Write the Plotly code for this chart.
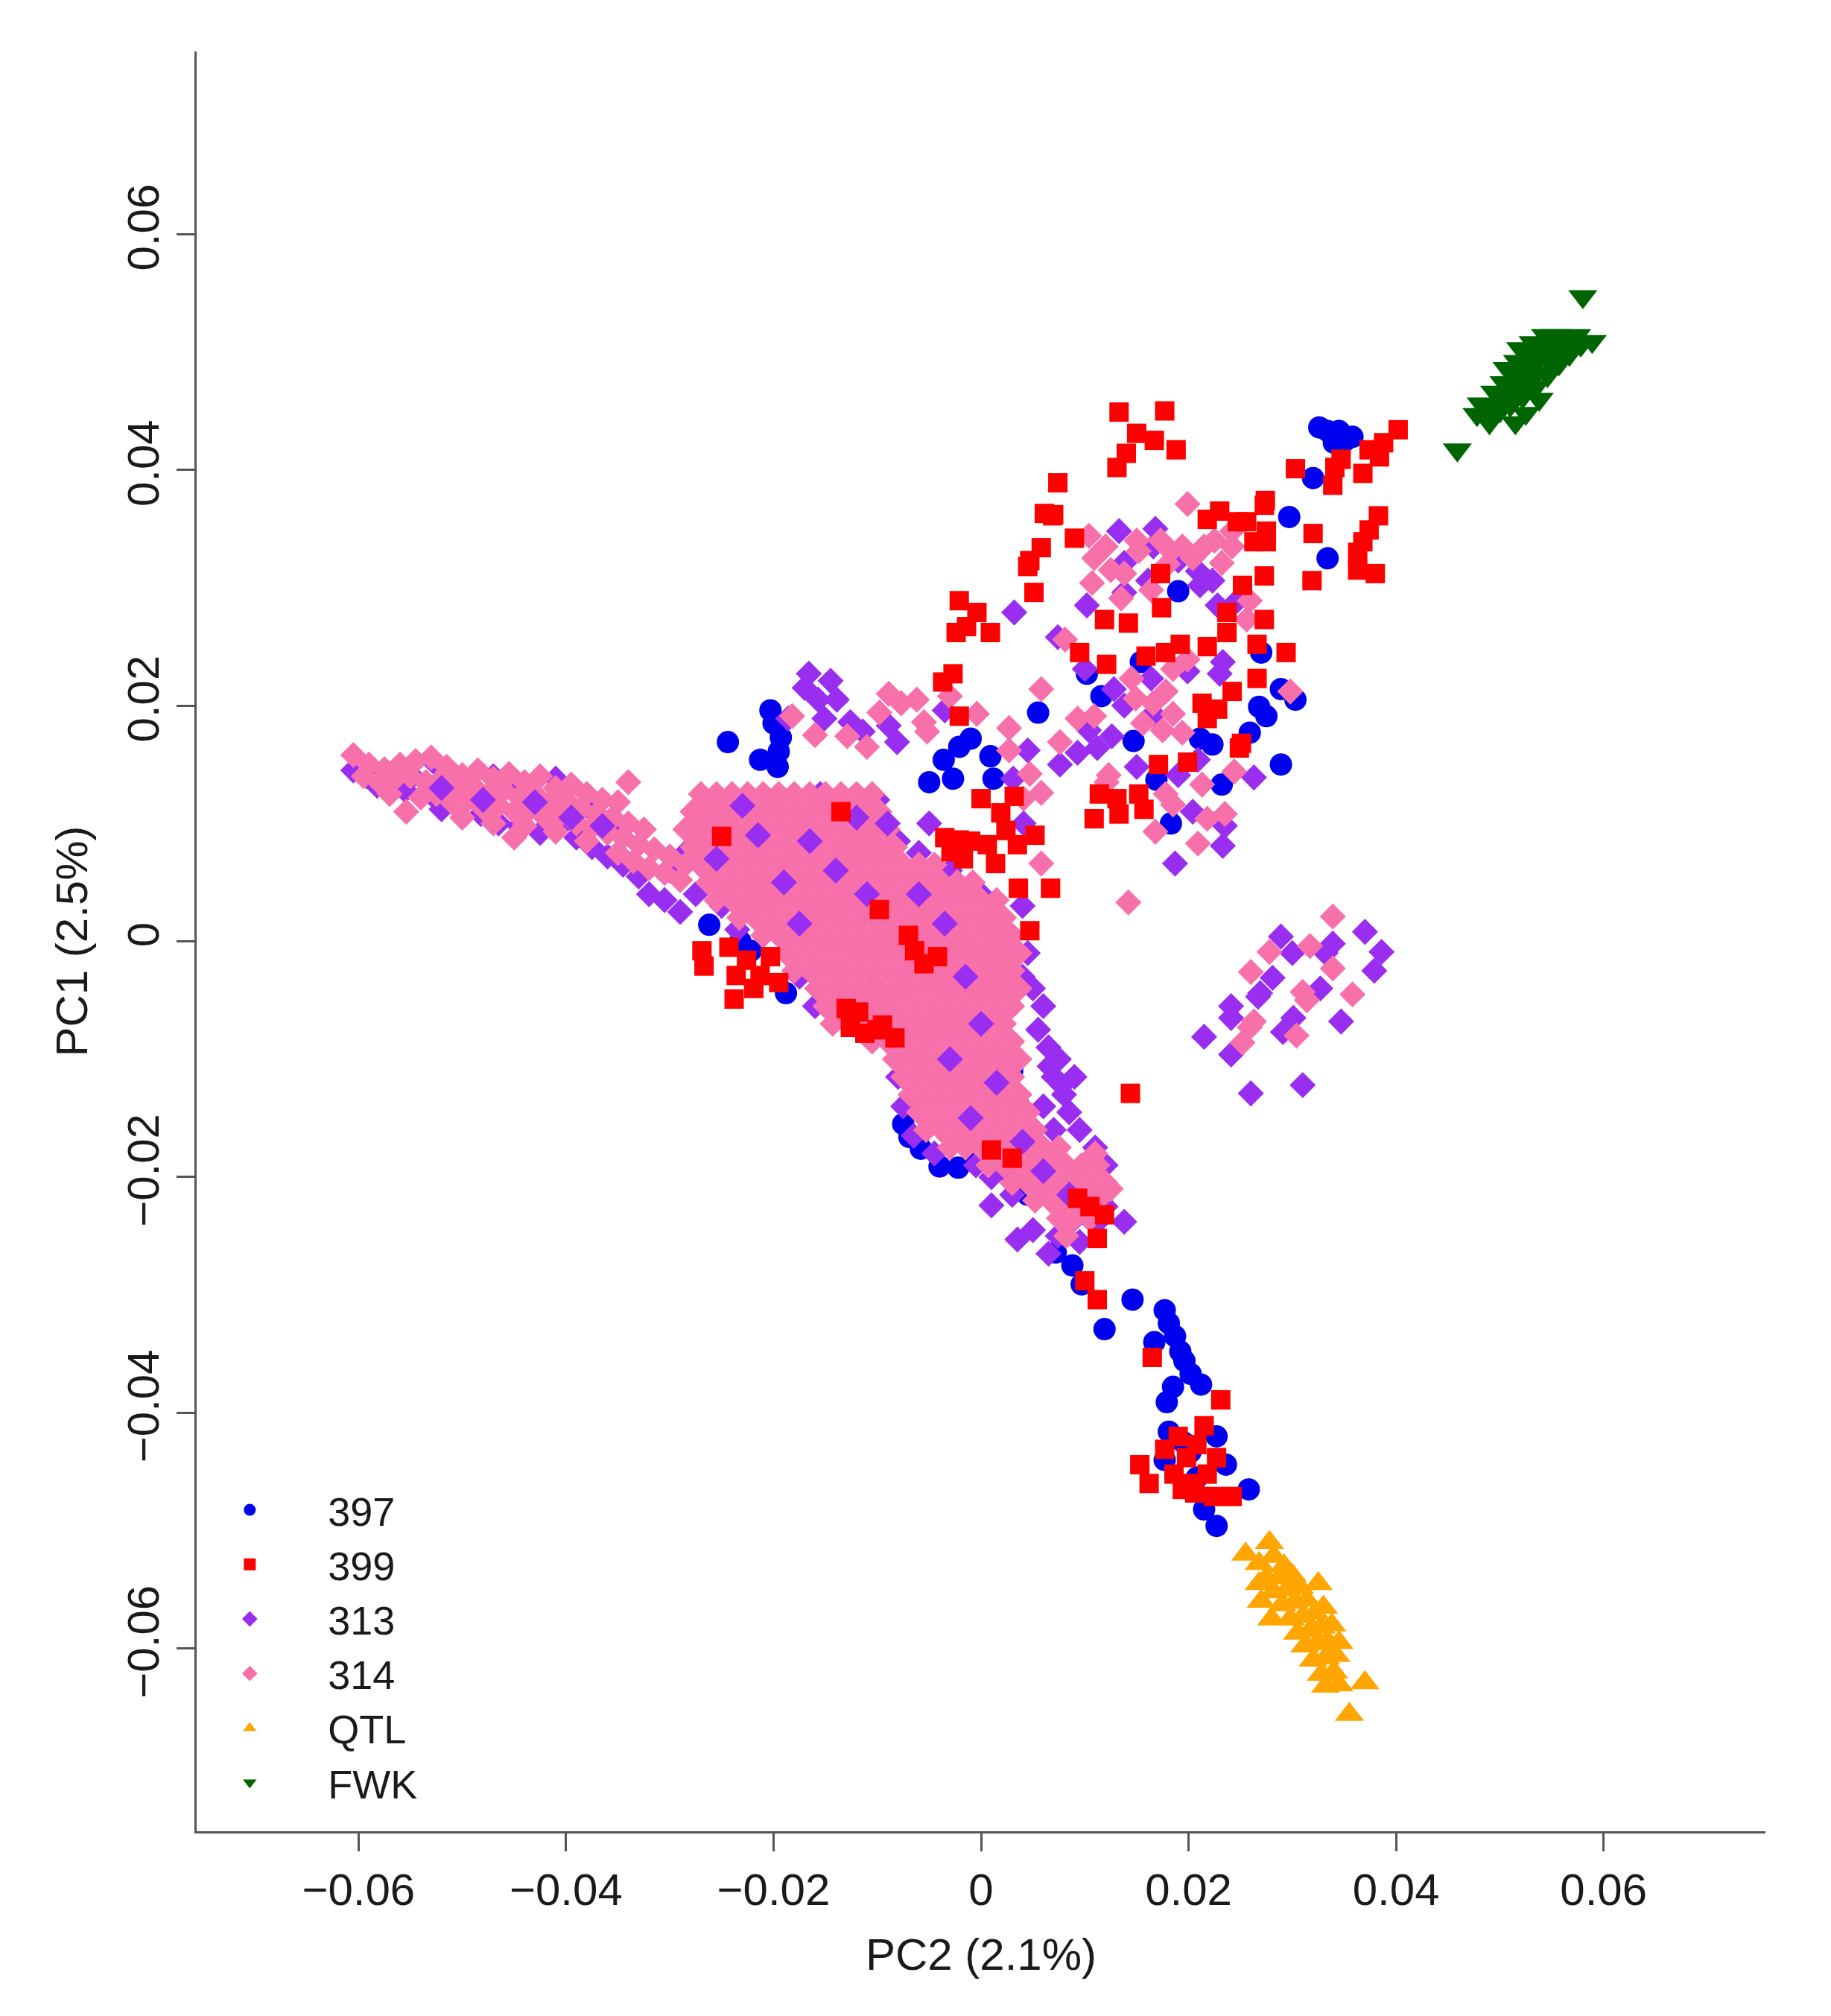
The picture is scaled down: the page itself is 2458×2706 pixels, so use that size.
import plotly.graph_objects as go

# PCA scores, one (PC2, PC1) pair per sample

g397 = [
    (0.0326, 0.0436), (0.0334, 0.0433), (0.0345, 0.0433), (0.0351, 0.0425), (0.0340, 0.0423),
    (0.0358, 0.0428), (0.0320, 0.0393), (0.0297, 0.0360), (0.0334, 0.0325),
    (0.0190, 0.0297), (0.0154, 0.0237), (0.0102, 0.0227), (0.0116, 0.0208), (0.0270, 0.0245),
    (0.0289, 0.0214), (0.0268, 0.0199), (0.0275, 0.0191), (0.0259, 0.0177), (0.0147, 0.0170),
    (0.0211, 0.0172), (0.0223, 0.0167), (0.0289, 0.0150), (0.0232, 0.0133), (0.0169, 0.0137),
    (0.0183, 0.0100), (0.0303, 0.0205),
    (-0.0036, 0.0154), (-0.0021, 0.0165), (-0.0010, 0.0172), (-0.0027, 0.0138), (0.0009, 0.0157),
    (0.0012, 0.0138), (0.0055, 0.0194), (-0.0050, 0.0135),
    (-0.0244, 0.0169), (-0.0203, 0.0196), (-0.0200, 0.0185), (-0.0193, 0.0173), (-0.0195, 0.0161),
    (-0.0196, 0.0148), (-0.0213, 0.0154),
    (-0.0262, 0.0014), (-0.0232, 0.0000), (-0.0222, -0.0008), (-0.0188, -0.0044), (-0.0062, -0.0013),
    (-0.0068, -0.0005), (-0.0055, 0.0015), (-0.0040, -0.0030), (-0.0020, -0.0060), (0.0030, -0.0110),
    (0.0035, -0.0135),
    (-0.0075, -0.0155), (-0.0069, -0.0166), (-0.0058, -0.0176), (-0.0040, -0.0191), (-0.0022, -0.0192),
    (-0.0006, -0.0185), (0.0030, -0.0200), (0.0045, -0.0215),
    (0.0072, -0.0264), (0.0088, -0.0275), (0.0097, -0.0291), (0.0119, -0.0329), (0.0146, -0.0304),
    (0.0167, -0.0340), (0.0177, -0.0313), (0.0181, -0.0324), (0.0187, -0.0335), (0.0192, -0.0348),
    (0.0196, -0.0356), (0.0202, -0.0367), (0.0212, -0.0376), (0.0185, -0.0378), (0.0179, -0.0391),
    (0.0181, -0.0416), (0.0177, -0.0440), (0.0227, -0.0420), (0.0236, -0.0444), (0.0258, -0.0465),
    (0.0215, -0.0482), (0.0227, -0.0496), (0.0202, -0.0433), (0.0208, -0.0455), (0.0195, -0.0425),
]

g399 = [
    (0.0133, 0.0449), (0.0177, 0.0450), (0.0150, 0.0431), (0.0167, 0.0425), (0.0188, 0.0417),
    (0.0140, 0.0414), (0.0131, 0.0402), (0.0074, 0.0389), (0.0061, 0.0363), (0.0069, 0.0361),
    (0.0058, 0.0334), (0.0047, 0.0323), (0.0045, 0.0318), (0.0051, 0.0296),
    (-0.0021, 0.0289), (-0.0004, 0.0279), (-0.0024, 0.0262), (0.0009, 0.0262), (-0.0014, 0.0267),
    (-0.0027, 0.0227), (-0.0021, 0.0191), (-0.0037, 0.0220),
    (0.0274, 0.0374), (0.0303, 0.0401), (0.0320, 0.0346), (0.0319, 0.0306), (0.0341, 0.0402),
    (0.0347, 0.0409), (0.0339, 0.0387), (0.0368, 0.0397), (0.0374, 0.0417), (0.0388, 0.0423),
    (0.0402, 0.0434), (0.0384, 0.0411), (0.0383, 0.0361), (0.0374, 0.0349), (0.0368, 0.0339),
    (0.0363, 0.0330), (0.0363, 0.0315), (0.0380, 0.0312),
    (0.0070, 0.0362), (0.0090, 0.0342), (0.0218, 0.0358), (0.0230, 0.0365), (0.0247, 0.0356),
    (0.0256, 0.0356), (0.0273, 0.0370), (0.0275, 0.0348), (0.0263, 0.0339), (0.0275, 0.0339),
    (0.0273, 0.0310), (0.0252, 0.0302), (0.0173, 0.0312), (0.0174, 0.0283), (0.0119, 0.0273),
    (0.0142, 0.0270), (0.0237, 0.0279), (0.0237, 0.0262), (0.0273, 0.0273), (0.0095, 0.0245),
    (0.0121, 0.0235), (0.0159, 0.0242), (0.0178, 0.0245), (0.0192, 0.0252), (0.0218, 0.0250),
    (0.0266, 0.0252), (0.0294, 0.0245), (0.0266, 0.0223), (0.0242, 0.0212), (0.0213, 0.0202),
    (0.0228, 0.0197), (0.0218, 0.0189), (0.0251, 0.0168),
    (0.0249, 0.0164), (0.0171, 0.0150), (0.0199, 0.0152), (0.0114, 0.0125), (0.0131, 0.0121),
    (0.0133, 0.0108), (0.0152, 0.0125), (0.0157, 0.0112), (0.0109, 0.0104),
    (0.0000, 0.0121), (0.0019, 0.0109), (0.0024, 0.0094), (0.0036, 0.0045), (0.0014, 0.0066),
    (0.0006, 0.0082), (-0.0010, 0.0085), (-0.0021, 0.0086), (-0.0035, 0.0088), (-0.0029, 0.0076),
    (-0.0017, 0.0070), (0.0047, 0.0009), (0.0032, 0.0123), (0.0067, 0.0045), (0.0052, 0.0090),
    (0.0035, 0.0082),
    (-0.0269, -0.0008), (-0.0267, -0.0021), (-0.0243, -0.0005), (-0.0236, -0.0029), (-0.0226, -0.0016),
    (-0.0213, -0.0029), (-0.0203, -0.0013), (-0.0195, -0.0035), (-0.0238, -0.0049), (-0.0219, -0.0040),
    (-0.0250, 0.0089), (-0.0130, -0.0057), (-0.0126, -0.0073), (-0.0112, -0.0078), (-0.0095, -0.0071),
    (-0.0083, -0.0082), (-0.0064, -0.0008), (-0.0055, -0.0019), (-0.0042, -0.0013), (-0.0135, 0.0110),
    (-0.0098, 0.0027), (-0.0070, 0.0005), (-0.0118, -0.0060), (-0.0100, -0.0075),
    (0.0144, -0.0129), (0.0010, -0.0177), (0.0030, -0.0184), (0.0093, -0.0218), (0.0105, -0.0225),
    (0.0119, -0.0232), (0.0112, -0.0252),
    (0.0100, -0.0288), (0.0112, -0.0304), (0.0165, -0.0353), (0.0231, -0.0389), (0.0153, -0.0444),
    (0.0162, -0.0460), (0.0177, -0.0431), (0.0190, -0.0420), (0.0198, -0.0438), (0.0208, -0.0427),
    (0.0218, -0.0452), (0.0202, -0.0460), (0.0224, -0.0471), (0.0242, -0.0471), (0.0186, -0.0452),
    (0.0206, -0.0468), (0.0194, -0.0465), (0.0227, -0.0438), (0.0215, -0.0411),
]

g313 = [
    (-0.0605, 0.0145), (-0.0592, 0.0140), (-0.0582, 0.0132), (-0.0570, 0.0142), (-0.0548, 0.0140),
    (-0.0555, 0.0128), (-0.0530, 0.0125), (-0.0520, 0.0112), (-0.0500, 0.0125), (-0.0482, 0.0108),
    (-0.0465, 0.0100), (-0.0448, 0.0128), (-0.0445, 0.0098), (-0.0425, 0.0092), (-0.0410, 0.0138),
    (-0.0405, 0.0098), (-0.0390, 0.0088), (-0.0375, 0.0080), (-0.0360, 0.0072), (-0.0345, 0.0065),
    (-0.0330, 0.0055), (-0.0320, 0.0040), (-0.0305, 0.0035), (-0.0290, 0.0025), (-0.0275, 0.0040),
    (-0.0300, 0.0060), (-0.0350, 0.0095), (-0.0470, 0.0140), (-0.0525, 0.0150), (-0.0380, 0.0115),
    (-0.0166, 0.0227), (-0.0145, 0.0221), (-0.0139, 0.0205), (-0.0157, 0.0205), (-0.0151, 0.0189),
    (-0.0126, 0.0186), (-0.0114, 0.0178), (-0.0089, 0.0183), (-0.0081, 0.0169), (-0.0186, 0.0189),
    (-0.0170, 0.0215), (-0.0035, 0.0196),
    (-0.0275, 0.0090), (-0.0285, 0.0075), (-0.0265, 0.0105), (-0.0265, 0.0060), (-0.0250, 0.0030),
    (-0.0235, 0.0010), (-0.0220, 0.0045), (-0.0200, 0.0015), (-0.0185, 0.0070), (-0.0170, 0.0100),
    (-0.0160, 0.0025), (-0.0145, -0.0005), (-0.0130, 0.0050), (-0.0120, 0.0090), (-0.0105, 0.0025),
    (-0.0090, 0.0070), (-0.0080, -0.0005), (-0.0075, -0.0035), (-0.0090, -0.0055), (-0.0105, -0.0040),
    (-0.0125, -0.0045), (-0.0140, -0.0040), (-0.0160, -0.0055), (-0.0070, -0.0080), (-0.0060, -0.0100),
    (-0.0080, -0.0115), (-0.0075, -0.0140), (-0.0065, -0.0165), (-0.0045, -0.0180), (-0.0060, -0.0025),
    (-0.0030, 0.0060), (0.0000, 0.0040), (0.0020, 0.0010), (0.0040, 0.0030), (0.0045, -0.0010),
    (0.0040, -0.0030), (-0.0080, 0.0085), (-0.0060, 0.0075), (-0.0040, 0.0050), (-0.0020, 0.0040),
    (0.0010, 0.0025), (-0.0175, -0.0030), (-0.0155, 0.0125), (-0.0100, 0.0120), (-0.0050, 0.0100),
    (0.0050, -0.0040), (0.0060, -0.0055), (0.0055, -0.0075), (0.0065, -0.0090), (0.0075, -0.0100),
    (0.0070, -0.0115), (0.0080, -0.0130), (0.0085, -0.0145), (0.0060, -0.0140), (0.0095, -0.0160),
    (0.0070, -0.0160), (0.0090, -0.0115), (0.0066, -0.0106), (0.0078, -0.0122),
    (0.0030, -0.0215), (0.0010, -0.0200), (0.0035, -0.0253), (0.0050, -0.0245), (0.0074, -0.0250),
    (0.0095, -0.0255), (0.0110, -0.0240), (0.0120, -0.0225), (0.0100, -0.0220), (-0.0005, -0.0190),
    (0.0065, -0.0265), (0.0085, -0.0240), (0.0120, -0.0190), (0.0110, -0.0175), (0.0109, -0.0209),
    (0.0010, -0.0224), (0.0138, -0.0238),
    (0.0032, 0.0279), (0.0045, 0.0162), (0.0031, 0.0138), (0.0041, 0.0100),
    (0.0133, 0.0348), (0.0168, 0.0350), (0.0166, 0.0335), (0.0138, 0.0321), (0.0190, 0.0323),
    (0.0209, 0.0314), (0.0223, 0.0306), (0.0211, 0.0302), (0.0102, 0.0285), (0.0161, 0.0306),
    (0.0138, 0.0296), (0.0228, 0.0285), (0.0247, 0.0289), (0.0074, 0.0258), (0.0100, 0.0231),
    (0.0233, 0.0237), (0.0230, 0.0227), (0.0199, 0.0229), (0.0164, 0.0223), (0.0128, 0.0214),
    (0.0138, 0.0200), (0.0166, 0.0193), (0.0104, 0.0179), (0.0126, 0.0174),
    (0.0076, 0.0150), (0.0093, 0.0160), (0.0112, 0.0164), (0.0150, 0.0148), (0.0209, 0.0154),
    (0.0190, 0.0141), (0.0263, 0.0139), (0.0204, 0.0110), (0.0235, 0.0098), (0.0233, 0.0081),
    (0.0187, 0.0066),
    (0.0289, 0.0004), (0.0300, -0.0010), (0.0339, -0.0002), (0.0332, -0.0010), (0.0370, 0.0008),
    (0.0386, -0.0009), (0.0379, -0.0025), (0.0281, -0.0031), (0.0269, -0.0044), (0.0267, -0.0047),
    (0.0327, -0.0040), (0.0241, -0.0055), (0.0241, -0.0065), (0.0301, -0.0065), (0.0291, -0.0077),
    (0.0347, -0.0068), (0.0215, -0.0081), (0.0241, -0.0096), (0.0260, -0.0129), (0.0310, -0.0122),
]

# 313 samples that sit on top of the 314 cloud
g313_over = [
    (-0.0520, 0.0130), (-0.0480, 0.0120), (-0.0430, 0.0118), (-0.0395, 0.0105), (-0.0365, 0.0098),
    (-0.0255, 0.0070), (-0.0215, 0.0090), (-0.0190, 0.0050), (-0.0165, 0.0085), (-0.0140, 0.0060),
    (-0.0110, 0.0040), (-0.0120, 0.0105), (-0.0230, 0.0115), (-0.0175, 0.0015), (-0.0060, 0.0040),
    (-0.0035, 0.0015), (-0.0015, -0.0030), (0.0000, -0.0070), (-0.0030, -0.0100), (0.0015, -0.0120),
    (-0.0010, -0.0150), (0.0040, -0.0170), (0.0060, -0.0195), (0.0085, -0.0215), (-0.0090, 0.0100),
]

g314_arm = [
    (-0.0605, 0.0158), (-0.0590, 0.0150), (-0.0575, 0.0146), (-0.0560, 0.0150), (-0.0545, 0.0153),
    (-0.0530, 0.0156), (-0.0515, 0.0148), (-0.0500, 0.0141), (-0.0485, 0.0145), (-0.0470, 0.0138),
    (-0.0455, 0.0142), (-0.0440, 0.0135), (-0.0425, 0.0140), (-0.0410, 0.0130), (-0.0395, 0.0133),
    (-0.0380, 0.0125), (-0.0365, 0.0120), (-0.0350, 0.0118),
    (-0.0595, 0.0140), (-0.0580, 0.0135), (-0.0565, 0.0138), (-0.0550, 0.0140), (-0.0535, 0.0135),
    (-0.0520, 0.0138), (-0.0505, 0.0130), (-0.0490, 0.0132), (-0.0475, 0.0125), (-0.0460, 0.0128),
    (-0.0445, 0.0122), (-0.0430, 0.0125), (-0.0415, 0.0118), (-0.0400, 0.0120), (-0.0385, 0.0112),
    (-0.0370, 0.0108), (-0.0355, 0.0105), (-0.0340, 0.0100), (-0.0325, 0.0095),
    (-0.0570, 0.0125), (-0.0540, 0.0122), (-0.0525, 0.0125), (-0.0510, 0.0118), (-0.0495, 0.0120),
    (-0.0480, 0.0113), (-0.0465, 0.0115), (-0.0450, 0.0110), (-0.0435, 0.0112), (-0.0420, 0.0105),
    (-0.0405, 0.0108), (-0.0390, 0.0100), (-0.0375, 0.0097), (-0.0360, 0.0092), (-0.0345, 0.0088),
    (-0.0330, 0.0082), (-0.0315, 0.0078), (-0.0300, 0.0072),
    (-0.0500, 0.0105), (-0.0470, 0.0100), (-0.0440, 0.0098), (-0.0410, 0.0093), (-0.0380, 0.0085),
    (-0.0350, 0.0075), (-0.0335, 0.0068), (-0.0320, 0.0062), (-0.0305, 0.0058), (-0.0290, 0.0052),
    (-0.0340, 0.0135), (-0.0554, 0.0110), (-0.0450, 0.0088),
]

# central mass of 314, listed row by row: (PC1, [PC2 values])
g314_core = [
    (0.0125, [-0.0270, -0.0255, -0.0240, -0.0225, -0.0210, -0.0195, -0.0180, -0.0165, -0.0150,
              -0.0135, -0.0120, -0.0105]),
    (0.0110, [-0.0278, -0.0263, -0.0248, -0.0233, -0.0218, -0.0203, -0.0188, -0.0173, -0.0158,
              -0.0143, -0.0128, -0.0113, -0.0098]),
    (0.0095, [-0.0285, -0.0270, -0.0255, -0.0240, -0.0225, -0.0210, -0.0195, -0.0180, -0.0165,
              -0.0150, -0.0135, -0.0120, -0.0105, -0.0090]),
    (0.0080, [-0.0278, -0.0263, -0.0248, -0.0233, -0.0218, -0.0203, -0.0188, -0.0173, -0.0158,
              -0.0143, -0.0128, -0.0113, -0.0098, -0.0083]),
    (0.0065, [-0.0285, -0.0270, -0.0255, -0.0240, -0.0225, -0.0210, -0.0195, -0.0180, -0.0165,
              -0.0150, -0.0135, -0.0120, -0.0105, -0.0090, -0.0075, -0.0060, -0.0045]),
    (0.0050, [-0.0263, -0.0248, -0.0233, -0.0218, -0.0203, -0.0188, -0.0173, -0.0158, -0.0143,
              -0.0128, -0.0113, -0.0098, -0.0083, -0.0068, -0.0053, -0.0038, -0.0023, -0.0008]),
    (0.0035, [-0.0255, -0.0240, -0.0225, -0.0210, -0.0195, -0.0180, -0.0165, -0.0150, -0.0135,
              -0.0120, -0.0105, -0.0090, -0.0075, -0.0060, -0.0045, -0.0030, -0.0015, 0.0000, 0.0015]),
    (0.0020, [-0.0233, -0.0218, -0.0203, -0.0188, -0.0173, -0.0158, -0.0143, -0.0128, -0.0113,
              -0.0098, -0.0083, -0.0068, -0.0053, -0.0038, -0.0023, -0.0008, 0.0007, 0.0022]),
    (0.0005, [-0.0210, -0.0195, -0.0180, -0.0165, -0.0150, -0.0135, -0.0120, -0.0105, -0.0090,
              -0.0075, -0.0060, -0.0045, -0.0030, -0.0015, 0.0000, 0.0015, 0.0030]),
    (-0.0010, [-0.0188, -0.0173, -0.0158, -0.0143, -0.0128, -0.0113, -0.0098, -0.0083, -0.0068,
               -0.0053, -0.0038, -0.0023, -0.0008, 0.0007, 0.0022, 0.0037]),
    (-0.0025, [-0.0180, -0.0165, -0.0150, -0.0135, -0.0120, -0.0105, -0.0090, -0.0075, -0.0060,
               -0.0045, -0.0030, -0.0015, 0.0000, 0.0015, 0.0030]),
    (-0.0040, [-0.0158, -0.0143, -0.0128, -0.0113, -0.0098, -0.0083, -0.0068, -0.0053, -0.0038,
               -0.0023, -0.0008, 0.0007, 0.0022, 0.0037]),
    (-0.0055, [-0.0150, -0.0135, -0.0120, -0.0105, -0.0090, -0.0075, -0.0060, -0.0045, -0.0030,
               -0.0015, 0.0000, 0.0015, 0.0030]),
    (-0.0070, [-0.0143, -0.0128, -0.0113, -0.0098, -0.0083, -0.0068, -0.0053, -0.0038, -0.0023,
               -0.0008, 0.0007, 0.0022]),
    (-0.0085, [-0.0105, -0.0090, -0.0075, -0.0060, -0.0045, -0.0030, -0.0015, 0.0000, 0.0015, 0.0030]),
    (-0.0100, [-0.0083, -0.0068, -0.0053, -0.0038, -0.0023, -0.0008, 0.0007, 0.0022, 0.0037]),
    (-0.0115, [-0.0075, -0.0060, -0.0045, -0.0030, -0.0015, 0.0000, 0.0015, 0.0030]),
    (-0.0130, [-0.0068, -0.0053, -0.0038, -0.0023, -0.0008, 0.0007, 0.0022, 0.0037]),
    (-0.0145, [-0.0060, -0.0045, -0.0030, -0.0015, 0.0000, 0.0015, 0.0030, 0.0045]),
    (-0.0160, [-0.0053, -0.0038, -0.0023, -0.0008, 0.0007, 0.0022, 0.0037, 0.0052]),
    (-0.0175, [-0.0030, -0.0015, 0.0000, 0.0015, 0.0030, 0.0045, 0.0060, 0.0075]),
    (-0.0190, [0.0007, 0.0022, 0.0037, 0.0052, 0.0067, 0.0082, 0.0097, 0.0112]),
    (-0.0205, [0.0030, 0.0045, 0.0060, 0.0075, 0.0090, 0.0105, 0.0120]),
    (-0.0220, [0.0052, 0.0067, 0.0082, 0.0097, 0.0112]),
    (-0.0235, [0.0075, 0.0090, 0.0105]),
    (-0.0250, [0.0082]),
]

g314_other = [
    (0.0110, -0.0180), (0.0125, -0.0210),
    (-0.0129, 0.0174), (-0.0098, 0.0194), (-0.0077, 0.0202), (-0.0062, 0.0205), (-0.0089, 0.0210),
    (-0.0052, 0.0178), (-0.0030, 0.0208), (-0.0160, 0.0175), (-0.0110, 0.0165), (-0.0182, 0.0191),
    (0.0058, 0.0214), (0.0027, 0.0181), (-0.0004, 0.0193), (-0.0055, 0.0186), (0.0027, 0.0162),
    (0.0047, 0.0142), (0.0058, 0.0126), (0.0041, 0.0121), (0.0058, 0.0066),
    (0.0199, 0.0371), (0.0104, 0.0344), (0.0109, 0.0325), (0.0107, 0.0304), (0.0150, 0.0340),
    (0.0152, 0.0331), (0.0173, 0.0340), (0.0183, 0.0331), (0.0194, 0.0335), (0.0204, 0.0325),
    (0.0138, 0.0312), (0.0135, 0.0291), (0.0164, 0.0298), (0.0242, 0.0348), (0.0242, 0.0335),
    (0.0232, 0.0321), (0.0259, 0.0289), (0.0256, 0.0273), (0.0081, 0.0256), (0.0199, 0.0239),
    (0.0185, 0.0231), (0.0178, 0.0212), (0.0145, 0.0223), (0.0149, 0.0206), (0.0166, 0.0202),
    (0.0185, 0.0193), (0.0093, 0.0189), (0.0109, 0.0191), (0.0156, 0.0185), (0.0175, 0.0179),
    (0.0194, 0.0177), (0.0298, 0.0212), (0.0120, 0.0335), (0.0125, 0.0315), (0.0180, 0.0320),
    (0.0215, 0.0335), (0.0225, 0.0340),
    (0.0076, 0.0169), (0.0123, 0.0141), (0.0121, 0.0135), (0.0178, 0.0125), (0.0185, 0.0116),
    (0.0213, 0.0133), (0.0244, 0.0144), (0.0218, 0.0104), (0.0235, 0.0108), (0.0168, 0.0093),
    (0.0209, 0.0083), (0.0142, 0.0033),
    (0.0339, 0.0021), (0.0278, -0.0009), (0.0317, -0.0004), (0.0339, -0.0023), (0.0260, -0.0026),
    (0.0358, -0.0045), (0.0310, -0.0043), (0.0314, -0.0050), (0.0304, -0.0080), (0.0259, -0.0073),
    (0.0252, -0.0086), (0.0263, -0.0068),
]

gQTL = [
    (0.0255, -0.0520), (0.0278, -0.0510), (0.0268, -0.0528), (0.0282, -0.0522), (0.0292, -0.0530),
    (0.0275, -0.0540), (0.0288, -0.0540), (0.0300, -0.0538), (0.0282, -0.0552), (0.0295, -0.0550),
    (0.0307, -0.0548), (0.0290, -0.0563), (0.0302, -0.0561), (0.0314, -0.0559), (0.0298, -0.0575),
    (0.0310, -0.0573), (0.0322, -0.0570), (0.0305, -0.0587), (0.0317, -0.0585), (0.0328, -0.0582),
    (0.0312, -0.0598), (0.0324, -0.0596), (0.0334, -0.0594), (0.0320, -0.0610), (0.0332, -0.0608),
    (0.0342, -0.0606), (0.0328, -0.0622), (0.0340, -0.0620), (0.0345, -0.0631), (0.0332, -0.0632),
    (0.0370, -0.0629), (0.0355, -0.0656), (0.0268, -0.0545), (0.0325, -0.0545), (0.0270, -0.0560),
    (0.0280, -0.0575), (0.0330, -0.0565), (0.0338, -0.0580), (0.0345, -0.0595),
]

gFWK = [
    (0.0478, 0.0447), (0.0482, 0.0456), (0.0488, 0.0444), (0.0492, 0.0455), (0.0495, 0.0466),
    (0.0500, 0.0450), (0.0502, 0.0462), (0.0504, 0.0474), (0.0507, 0.0486), (0.0510, 0.0455),
    (0.0513, 0.0467), (0.0515, 0.0479), (0.0517, 0.0492), (0.0520, 0.0503), (0.0522, 0.0462),
    (0.0524, 0.0474), (0.0527, 0.0486), (0.0529, 0.0498), (0.0532, 0.0508), (0.0534, 0.0470),
    (0.0536, 0.0482), (0.0538, 0.0494), (0.0541, 0.0505), (0.0544, 0.0514), (0.0546, 0.0480),
    (0.0548, 0.0492), (0.0551, 0.0503), (0.0554, 0.0514), (0.0557, 0.0490), (0.0560, 0.0500),
    (0.0563, 0.0511), (0.0567, 0.0498), (0.0570, 0.0508), (0.0574, 0.0514), (0.0578, 0.0506),
    (0.0490, 0.0440), (0.0525, 0.0448), (0.0538, 0.0460), (0.0515, 0.0440),
    (0.0580, 0.0547), (0.0589, 0.0509), (0.0459, 0.0417),
]

x_ticks = [-0.06, -0.04, -0.02, 0, 0.02, 0.04, 0.06]
tick_text = ["\u22120.06", "\u22120.04", "\u22120.02", "0", "0.02", "0.04", "0.06"]

g314 = list(g314_arm)
for pc1, pc2_row in g314_core:
    g314 += [(pc2, pc1) for pc2 in pc2_row]
g314 += g314_other

# trace key: (label, points, symbol, colour, size, legend rank, in legend)
traces = [
    ("397", g397, "circle", "#0000F0", 30, 1, True),
    ("313", g313, "diamond", "#9A2EF0", 27, 3, True),
    ("314", g314, "diamond", "#F870AA", 27, 4, True),
    ("313", g313_over, "diamond", "#9A2EF0", 27, 3, False),
    ("399", g399, "square", "#FF0000", 26, 2, True),
    ("QTL", gQTL, "triangle-up", "#FFA500", 34, 5, True),
    ("FWK", gFWK, "triangle-down", "#006400", 34, 6, True),
]

fig = go.Figure()
for name, pts, symbol, color, size, rank, in_legend in traces:
    fig.add_trace(go.Scatter(
        x=[p[0] for p in pts],
        y=[p[1] for p in pts],
        mode="markers",
        name=name,
        legendrank=rank,
        showlegend=in_legend,
        marker=dict(symbol=symbol, color=color, size=size, line=dict(width=0)),
    ))

axis_style = dict(
    showline=True, linecolor="#555555", linewidth=3,
    ticks="outside", ticklen=24, tickwidth=3, tickcolor="#555555",
    showgrid=False, zeroline=False, mirror=False,
    tickvals=x_ticks, ticktext=tick_text,
    tickfont=dict(size=60, color="#1a1a1a"),
)
fig.update_xaxes(range=[-0.0756, 0.0756],
                 title=dict(text="PC2 (2.1%)", standoff=33, font=dict(size=60)), **axis_style)
fig.update_yaxes(range=[-0.0755, 0.0755], tickangle=-90,
                 title=dict(text="PC1 (2.5%)", standoff=23, font=dict(size=60)), **axis_style)

fig.update_layout(
    width=2458, height=2706,
    margin=dict(l=256, r=96, t=61, b=256),
    paper_bgcolor="white", plot_bgcolor="white",
    font=dict(family="Liberation Sans, Arial, sans-serif", size=58, color="#1a1a1a"),
    legend=dict(x=-0.016, y=0.198, xanchor="left", yanchor="top",
                bgcolor="rgba(0,0,0,0)", font=dict(size=54), itemwidth=200),
)

fig.write_html("out.html")
